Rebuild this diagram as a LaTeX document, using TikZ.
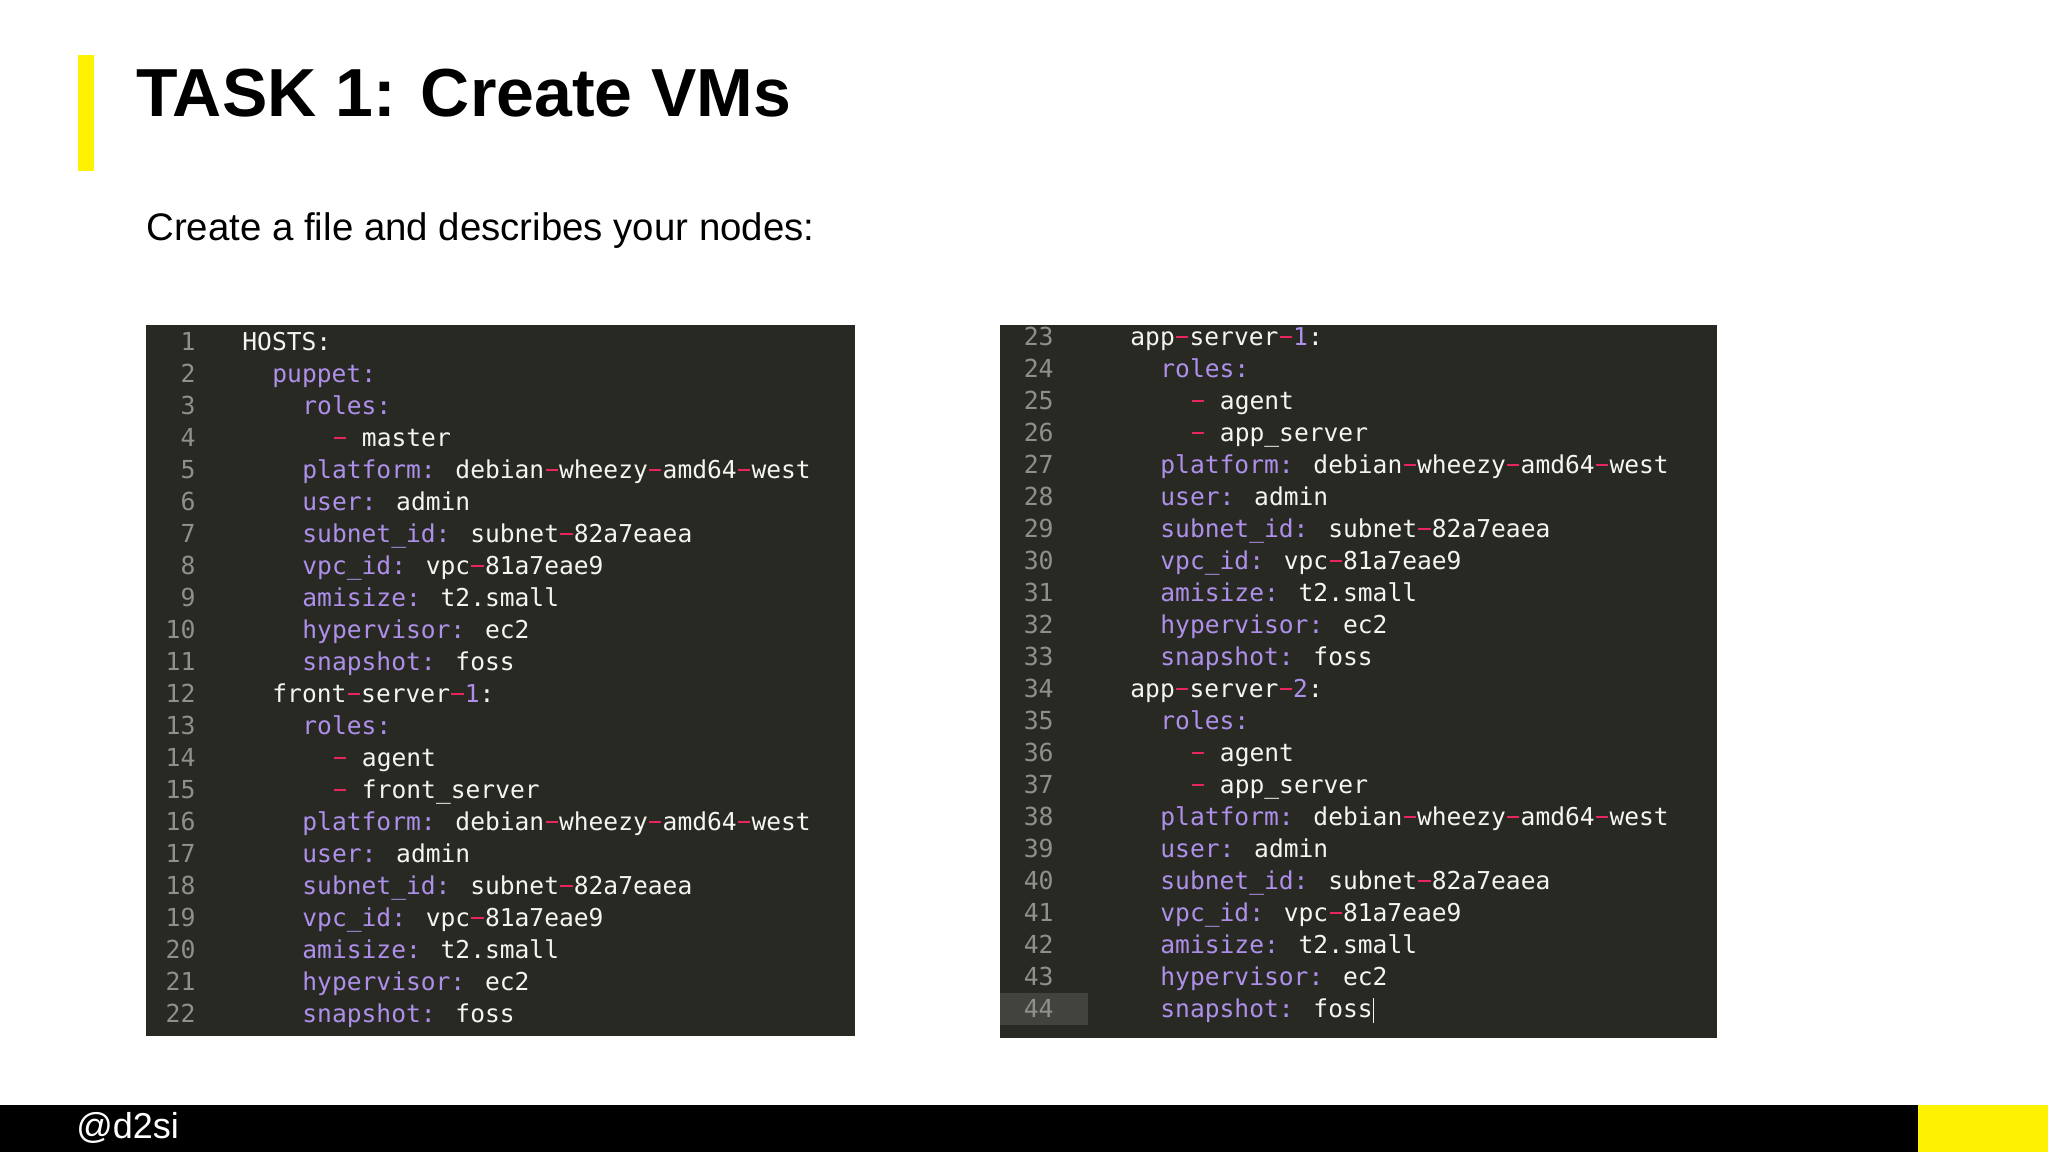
\documentclass[tikz,border=0pt]{standalone}
\usepackage{fontspec}
\setmainfont{Liberation Sans}
\newfontfamily\codefont{DejaVu Sans Mono}
\definecolor{panel}{HTML}{282923}
\definecolor{keyc}{HTML}{AE8FEA}
\definecolor{dashc}{HTML}{E8265E}
\definecolor{numc}{HTML}{8F908A}
\definecolor{txtc}{HTML}{F4F4F0}
\definecolor{ylw}{HTML}{FFF200}
\newcommand{\K}[1]{\textcolor{keyc}{#1}}
\newcommand{\D}{\textcolor{dashc}{\makebox[0.6em][c]{\rule[0.28em]{0.5em}{0.09em}}}}
\newcommand{\codeln}[6]{% name, xnum, y(baseline), num, indent, text
  \node[numst,anchor=base east] (n#1) at (#2,#3) {#4};
  \node[codest,anchor=base west] (c#1) at ({#2+46+30*#5},#3) {#6};}
\begin{document}
\begin{tikzpicture}[x=0.5pt,y=-0.5pt,
  numst/.style={inner sep=0,font=\codefont\fontsize{12.4}{14}\selectfont,text=numc},
  codest/.style={inner sep=0,font=\codefont\fontsize{12.3}{14}\selectfont,text=txtc}]
\useasboundingbox (0,0) rectangle (2048,1152);
\fill[white] (0,0) rectangle (2048,1152);
\fill[ylw] (78,55) rectangle (94,171);
\node[anchor=base west,inner sep=0,font=\bfseries\fontsize{34}{40}\selectfont] (title) at (136,116) {TASK 1: Create VMs};
\node[anchor=base west,inner sep=0,font=\fontsize{19.2}{23}\selectfont] (sub) at (146,240) {Create a file and describes your nodes:};
% panels
\fill[panel] (146,325) rectangle (855,1036);
\fill[panel] (1000,325) rectangle (1717,1038);
\fill[white!12!panel] (1000,993) rectangle (1088,1025);
% left code
\codeln{1}{196}{350}{1}{0}{HOSTS:}
\codeln{2}{196}{382}{2}{1}{\K{puppet:}}
\codeln{3}{196}{414}{3}{2}{\K{roles:}}
\codeln{4}{196}{446}{4}{3}{\D\ master}
\codeln{5}{196}{478}{5}{2}{\K{platform:} debian\D wheezy\D amd64\D west}
\codeln{6}{196}{510}{6}{2}{\K{user:} admin}
\codeln{7}{196}{542}{7}{2}{\K{subnet\_id:} subnet\D 82a7eaea}
\codeln{8}{196}{574}{8}{2}{\K{vpc\_id:} vpc\D 81a7eae9}
\codeln{9}{196}{606}{9}{2}{\K{amisize:} t2.small}
\codeln{10}{196}{638}{10}{2}{\K{hypervisor:} ec2}
\codeln{11}{196}{670}{11}{2}{\K{snapshot:} foss}
\codeln{12}{196}{702}{12}{1}{front\D server\D\K{1}:}
\codeln{13}{196}{734}{13}{2}{\K{roles:}}
\codeln{14}{196}{766}{14}{3}{\D\ agent}
\codeln{15}{196}{798}{15}{3}{\D\ front\_server}
\codeln{16}{196}{830}{16}{2}{\K{platform:} debian\D wheezy\D amd64\D west}
\codeln{17}{196}{862}{17}{2}{\K{user:} admin}
\codeln{18}{196}{894}{18}{2}{\K{subnet\_id:} subnet\D 82a7eaea}
\codeln{19}{196}{926}{19}{2}{\K{vpc\_id:} vpc\D 81a7eae9}
\codeln{20}{196}{958}{20}{2}{\K{amisize:} t2.small}
\codeln{21}{196}{990}{21}{2}{\K{hypervisor:} ec2}
\codeln{22}{196}{1022}{22}{2}{\K{snapshot:} foss}
% right code
\codeln{23}{1054}{345}{23}{1}{app\D server\D\K{1}:}
\codeln{24}{1054}{377}{24}{2}{\K{roles:}}
\codeln{25}{1054}{409}{25}{3}{\D\ agent}
\codeln{26}{1054}{441}{26}{3}{\D\ app\_server}
\codeln{27}{1054}{473}{27}{2}{\K{platform:} debian\D wheezy\D amd64\D west}
\codeln{28}{1054}{505}{28}{2}{\K{user:} admin}
\codeln{29}{1054}{537}{29}{2}{\K{subnet\_id:} subnet\D 82a7eaea}
\codeln{30}{1054}{569}{30}{2}{\K{vpc\_id:} vpc\D 81a7eae9}
\codeln{31}{1054}{601}{31}{2}{\K{amisize:} t2.small}
\codeln{32}{1054}{633}{32}{2}{\K{hypervisor:} ec2}
\codeln{33}{1054}{665}{33}{2}{\K{snapshot:} foss}
\codeln{34}{1054}{697}{34}{1}{app\D server\D\K{2}:}
\codeln{35}{1054}{729}{35}{2}{\K{roles:}}
\codeln{36}{1054}{761}{36}{3}{\D\ agent}
\codeln{37}{1054}{793}{37}{3}{\D\ app\_server}
\codeln{38}{1054}{825}{38}{2}{\K{platform:} debian\D wheezy\D amd64\D west}
\codeln{39}{1054}{857}{39}{2}{\K{user:} admin}
\codeln{40}{1054}{889}{40}{2}{\K{subnet\_id:} subnet\D 82a7eaea}
\codeln{41}{1054}{921}{41}{2}{\K{vpc\_id:} vpc\D 81a7eae9}
\codeln{42}{1054}{953}{42}{2}{\K{amisize:} t2.small}
\codeln{43}{1054}{985}{43}{2}{\K{hypervisor:} ec2}
\codeln{44}{1054}{1017}{44}{2}{\K{snapshot:} foss}
\draw[txtc,line width=0.6pt] (c44.north east) -- (c44.south east);
% footer
\fill[black] (0,1105) rectangle (2048,1152);
\fill[ylw] (1918,1105) rectangle (2048,1152);
\node[anchor=base west,inner sep=0,text=white,font=\fontsize{18}{22}\selectfont] (foot) at (76,1138) {@d2si};
\end{tikzpicture}
\end{document}
